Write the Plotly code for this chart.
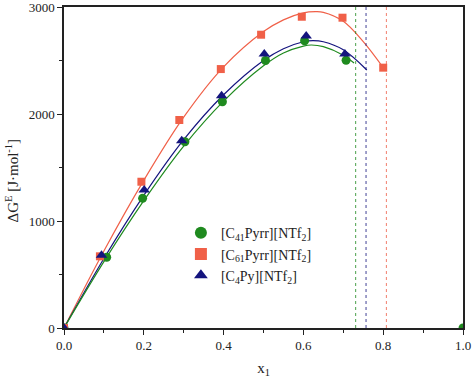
import plotly.graph_objects as go

# measured points
x_c41 = [0.0, 0.107, 0.197, 0.303, 0.397, 0.505, 0.603, 0.707, 1.0]
y_c41 = [0, 661, 1212, 1741, 2115, 2500, 2685, 2502, 0]
x_c61 = [0.0, 0.09, 0.194, 0.289, 0.393, 0.494, 0.596, 0.698, 0.80]
y_c61 = [0, 670, 1367, 1944, 2420, 2741, 2909, 2900, 2433]
x_c4py = [0.0, 0.094, 0.201, 0.295, 0.395, 0.502, 0.607, 0.704]
y_c4py = [0, 680, 1290, 1750, 2171, 2561, 2729, 2561]

# fitted curves
fx_c41 = [0.0, 0.1, 0.2, 0.3, 0.4, 0.5, 0.55, 0.6, 0.62, 0.65, 0.7, 0.727]
fy_c41 = [0, 620, 1190, 1700, 2120, 2450, 2570, 2635, 2645, 2630, 2550, 2476]
fx_c61 = [0.0, 0.1, 0.2, 0.3, 0.4, 0.5, 0.55, 0.6, 0.63, 0.65, 0.7, 0.75, 0.8]
fy_c61 = [0, 720, 1380, 1970, 2440, 2770, 2880, 2945, 2956, 2950, 2866, 2676, 2433]
fx_c4py = [0.0, 0.1, 0.2, 0.3, 0.4, 0.5, 0.55, 0.6, 0.624, 0.65, 0.7, 0.759]
fy_c4py = [0, 650, 1240, 1760, 2180, 2500, 2610, 2675, 2685, 2675, 2600, 2411]

# limits of the homogeneous region (dotted lines)
vx_c41, vx_c4py, vx_c61 = 0.731, 0.757, 0.808

c_green = "#1f8a1f"
c_red = "#f06048"
c_blue = "#14147e"

names = ["[C<sub>41</sub>Pyrr][NTf<sub>2</sub>]",
         "[C<sub>61</sub>Pyrr][NTf<sub>2</sub>]",
         "[C<sub>4</sub>Py][NTf<sub>2</sub>]"]
y_title = "ΔG<sup>E</sup> [J·mol<sup>-1</sup>]"
x_title = "x<sub>1</sub>"

fig = go.Figure()
for fx, fy, c in [(fx_c61, fy_c61, c_red), (fx_c4py, fy_c4py, c_blue), (fx_c41, fy_c41, c_green)]:
    fig.add_trace(go.Scatter(x=fx, y=fy, mode="lines", line=dict(color=c, width=1.2, shape="spline"),
                             showlegend=False, hoverinfo="skip"))

for vx, c in [(vx_c41, c_green), (vx_c4py, c_blue), (vx_c61, c_red)]:
    fig.add_trace(go.Scatter(x=[vx, vx], y=[0, 3000], mode="lines", opacity=0.8,
                             line=dict(color=c, width=1, dash="dot"), showlegend=False, hoverinfo="skip"))

fig.add_trace(go.Scatter(x=x_c41, y=y_c41, mode="markers", name=names[0],
                         marker=dict(symbol="circle", size=9, color=c_green)))
fig.add_trace(go.Scatter(x=x_c61, y=y_c61, mode="markers", name=names[1],
                         marker=dict(symbol="square", size=8, color=c_red)))
fig.add_trace(go.Scatter(x=x_c4py, y=y_c4py, mode="markers", name=names[2],
                         marker=dict(symbol="triangle-up", size=10, color=c_blue)))

fam = "Liberation Serif, Times New Roman, serif"
font = dict(family=fam, size=13, color="#222")
axis_common = dict(showline=True, linecolor="#222", linewidth=1.5, mirror=True, ticks="outside",
                   ticklen=5, tickwidth=1.2, tickcolor="#222", showgrid=False, zeroline=False,
                   tickfont=font, automargin=False, ticklabeloverflow="allow")
fig.update_xaxes(range=[0, 1.0], dtick=0.2, tickformat=".1f",
                 minor=dict(dtick=0.1, ticks="outside", ticklen=3, tickcolor="#222"),
                 title=dict(text=x_title, font=dict(family=fam, size=15, color="#222"), standoff=10),
                 **axis_common)
fig.update_yaxes(range=[0, 3000], dtick=1000,
                 minor=dict(dtick=500, ticks="outside", ticklen=3, tickcolor="#222"),
                 **axis_common)

fig.add_annotation(text=y_title, textangle=-90, xref="paper", yref="paper",
                   x=-0.13, y=0.46, xanchor="center", yanchor="middle", showarrow=False,
                   font=dict(family=fam, size=15, color="#222"))

fig.update_layout(width=474, height=383, margin=dict(l=64, r=11, t=7, b=55, autoexpand=False),
                  plot_bgcolor="white", paper_bgcolor="white", font=font,
                  legend=dict(x=0.293, y=0.345, xanchor="left", yanchor="top",
                              bgcolor="rgba(0,0,0,0)", font=dict(family=fam, size=14, color="#222"),
                              tracegroupgap=0, itemsizing="constant"))

fig.write_html("out.html", config={"displayModeBar": False},
               post_script="document.body.style.margin='0';")
